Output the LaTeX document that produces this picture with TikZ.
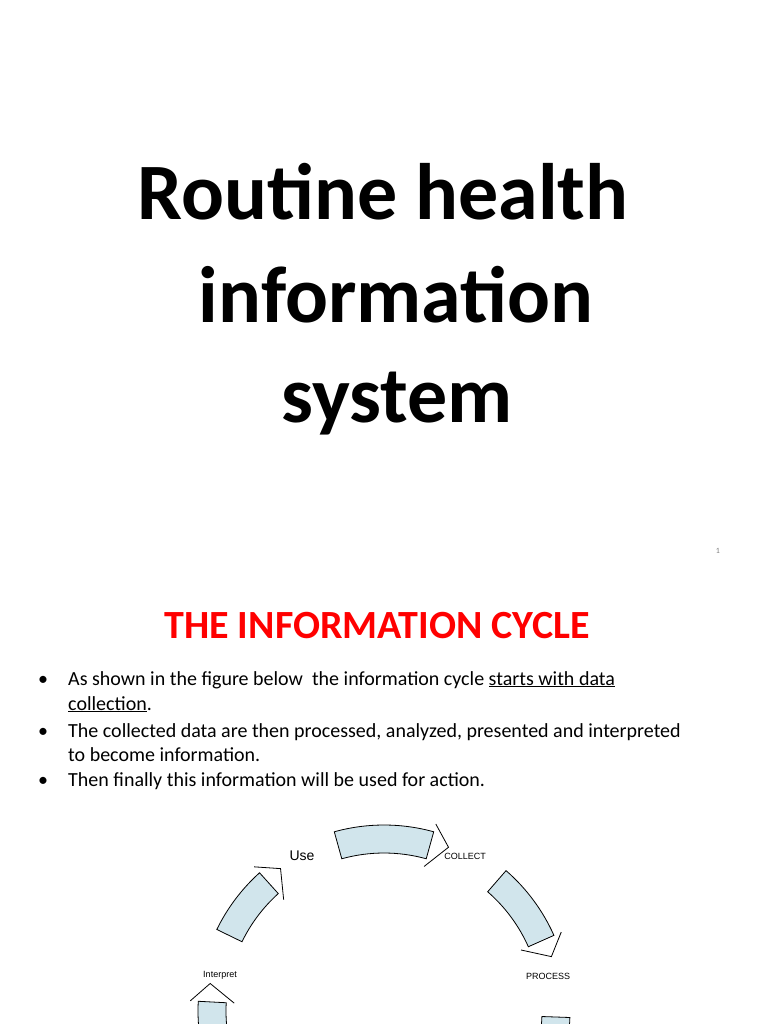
\documentclass[tikz,border=0pt]{standalone}
\usepackage{fontspec}
\setmainfont{Carlito}
\newfontfamily\labelfont{Liberation Sans}
\tikzset{
  seg/.style={draw=black, thick, fill=cyan!25!teal!20!white},
  tip/.style={draw=black, thick, line join=miter},
  lbl/.style={font=\labelfont\fontsize{9}{10}\selectfont, inner sep=0pt},
  ttl/.style={anchor=base, inner sep=0pt, font=\bfseries\fontsize{80}{90}\selectfont},
  bul/.style={anchor=base west, inner sep=0pt, font=\fontsize{20}{25}\selectfont}
}
% one segment of the cycle, from angle #1 to angle #2 (angles measured downwards)
\newcommand{\cycseg}[2]{%
  \draw[seg] ([shift={(384,1011)}]#1:186) arc[start angle=#1, end angle=#2, radius=186]
    -- ([shift={(384,1011)}]#2:158) arc[start angle=#2, end angle=#1, radius=158] -- cycle;
  \draw[tip] ([shift={(384,1011)}]#2:194) -- ([shift={(384,1011)}]#2+6:176)
    -- ([shift={(384,1011)}]#2:150);
}
\begin{document}
\begin{tikzpicture}[x=1pt,y=-1pt]
\useasboundingbox[fill=white] (0,0) rectangle (768,1024);
% titre
\node (t1) [ttl] at (383,220) {Routine health};
\node (t2) [ttl] at (396,322) {information};
\node (t3) [ttl] at (397,422) {system};
\node (pgnum) [font=\fontsize{8}{9}\selectfont, text=gray, anchor=base] at (718,553) {1};

% la deuxieme page
\node (head) [font=\bfseries\fontsize{40}{44}\selectfont, text=red, anchor=base] at (377,638)
  {THE INFORMATION CYCLE};
\foreach \y in {685,737,786}
  \node [bul] at (38,\y) {•};
\node (b1) [bul] at (68,685) {As shown in the figure below\ \ the information cycle \underline{starts with data}};
\node (b1b) [bul] at (68,710) {\underline{collection}.};
\node (b2) [bul] at (68,737) {The collected data are then processed, analyzed, presented and interpreted};
\node (b2b) [bul] at (68,761) {to become information.};
\node (b3) [bul] at (68,786) {Then finally this information will be used for action.};

% le cycle
\begin{scope}
\clip (0,0) rectangle (768,1024);
\cycseg{-105.5}{-74.5}
\cycseg{-49}{-24}
\cycseg{-154}{-132}
\cycseg{-200}{-177}
\cycseg{2}{25}
\end{scope}
\node (use) [inner sep=0pt, font=\labelfont\fontsize{14}{16}\selectfont] at (302,856) {Use};
\node (collect) [lbl] at (465,856) {COLLECT};
\node (process) [lbl] at (548,976) {PROCESS};
\node (interp) [lbl] at (220,975) {Interpret};
\end{tikzpicture}
\end{document}
